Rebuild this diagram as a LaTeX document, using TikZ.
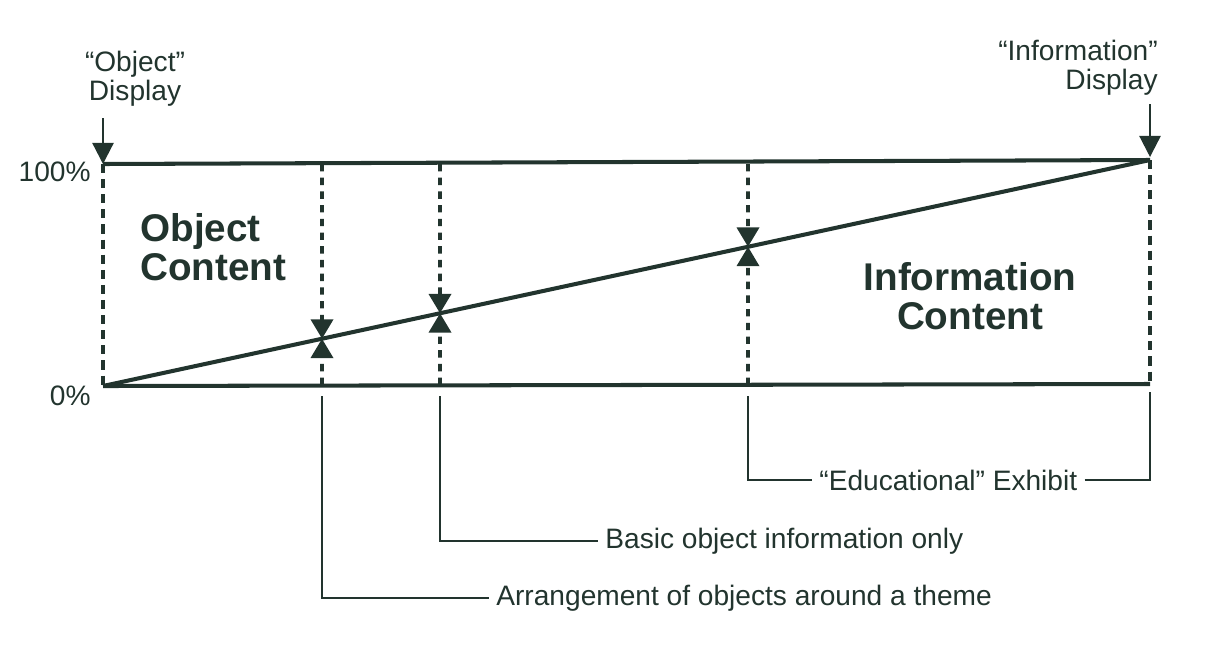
\documentclass[tikz,border=0pt]{standalone}
\usepackage{fontspec}
\setmainfont{Liberation Sans}
\usetikzlibrary{arrows.meta,calc,positioning}
\definecolor{ink}{RGB}{34,52,46}
\tikzset{
    myframe/.style={line width=2.3pt,draw=ink},
    myside/.style={line width=2.1pt,draw=ink,dash pattern=on 5.2pt off 3.4pt},
    mydot/.style={line width=2.1pt,draw=ink,dash pattern=on 4.2pt off 3.6pt,
        -{Triangle[length=11pt,width=12.5pt]}},
    mypoint/.style={line width=1.3pt,draw=ink,-{Triangle[length=12pt,width=12pt]}},
    mylead/.style={line width=0.8pt,draw=ink},
    mylabel/.style={font=\fontsize{16}{16.5}\selectfont,text=ink,inner sep=4pt},
    mybig/.style={font=\fontsize{22}{22}\selectfont\bfseries,text=ink,align=center,inner sep=0pt}
}
\begin{document}
\begin{tikzpicture}[x=0.02cm,y=-0.02cm]
  \useasboundingbox (0,0) rectangle (1212,656);
  % frame corners
  \coordinate (A) at (103,386);
  \coordinate (B) at (1150,384);
  \coordinate (C) at (1150,160);
  \coordinate (D) at (103,164);

  \draw[myframe] (D) -- (C);
  \draw[myframe] (A) -- (B);
  \draw[myframe] (A) -- (C);
  \draw[myside] (D) -- (A);
  \draw[myside] (C) -- (B);

  % levels on the diagonal
  \foreach \n/\x in {p/322,q/440,r/748}{
    \coordinate (top\n) at (\x,164);
    \coordinate (bot\n) at (\x,385);
    \coordinate (mid\n) at ($(A)!{(\x-103)/1047}!(C)$);
    \coordinate (foot\n) at (\x,396);
    \draw[mydot] (top\n) -- (mid\n);
    \draw[mydot] (bot\n) -- (mid\n);
  }

  % axis labels
  \node[mylabel,anchor=east] (full) at (98,172) {100\%};
  \node[mylabel,anchor=east] (zero) at (98,396) {0\%};

  % top pointers
  \node[mylabel,align=center,inner sep=0pt] (objdisp) at (135,79) {``Object''\\Display};
  \node[mylabel,align=right,inner sep=0pt,anchor=east] (infdisp) at (1158,68) {``Information''\\Display};
  \coordinate (objtip) at (103,118);
  \coordinate (inftip) at (1150,104);
  \draw[mypoint] (objtip) -- (D);
  \draw[mypoint] (inftip) -- ($(C)+(0,-3)$);

  % contents
  \node[mybig,align=left,anchor=west] (objcont) at (140,247) {Object\\Content};
  \node[mybig] (infcont) at (970,296) {Information\\Content};

  % leads to the captions
  \node[mylabel,anchor=west] (edu) at (812,480) {``Educational'' Exhibit};
  \node[mylabel,anchor=west] (basic) at (598,541) {Basic object information only};
  \node[mylabel,anchor=west] (arrange) at (489,598) {Arrangement of objects around a theme};
  \coordinate (cornerfoot) at (1150,392);

  \draw[mylead] (footr) |- (edu.west);
  \draw[mylead] (edu.east) -| (cornerfoot);
  \draw[mylead] (footq) |- (basic.west);
  \draw[mylead] (footp) |- (arrange.west);
\end{tikzpicture}
\end{document}
